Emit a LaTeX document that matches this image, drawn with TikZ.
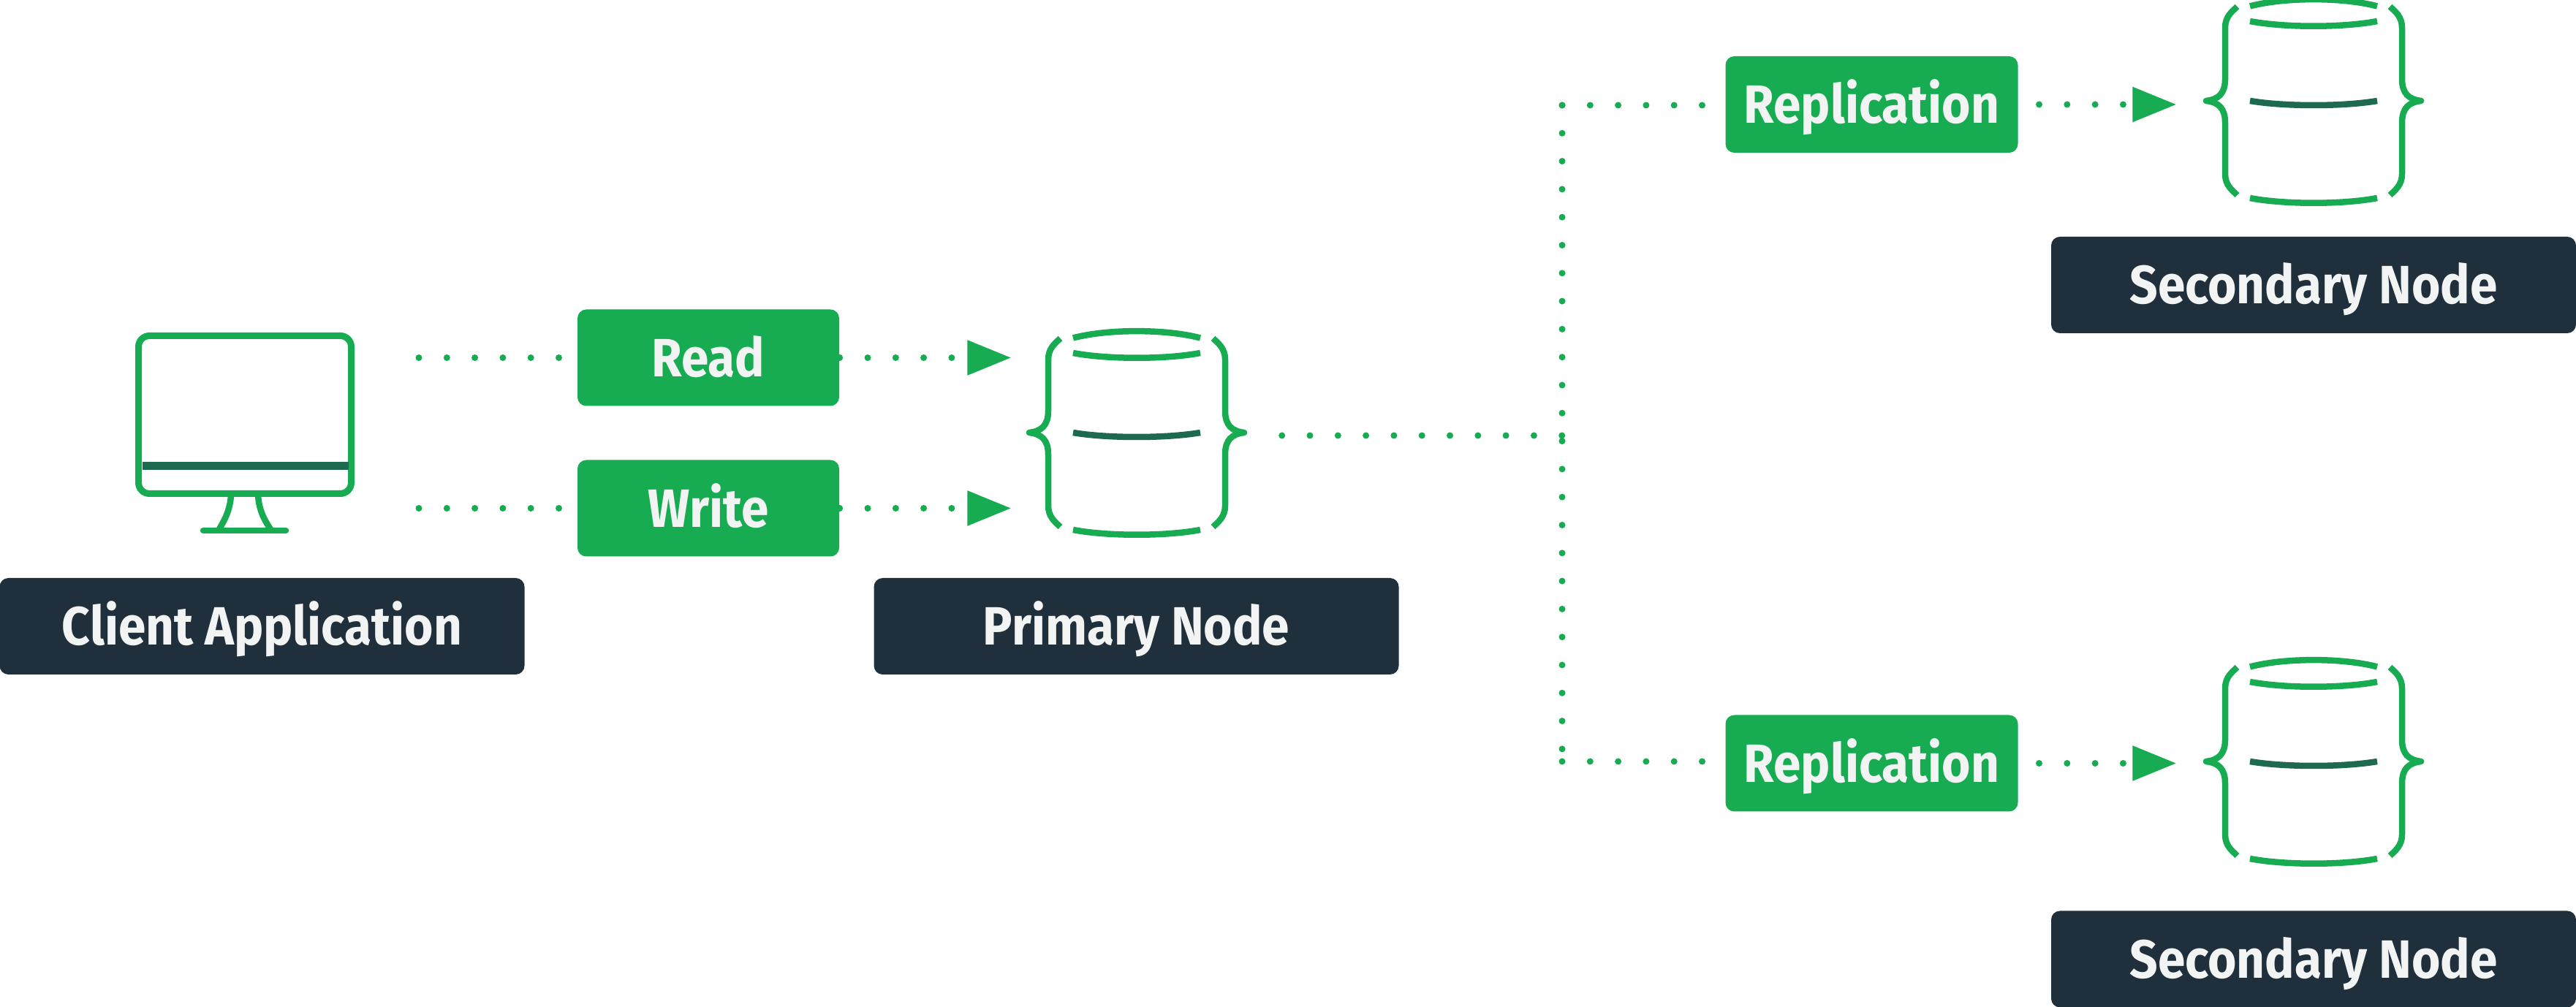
\documentclass[tikz,border=0pt]{standalone}
\usepackage{fontspec}
\setmainfont{Fira Sans}[FakeStretch=0.915]
\usetikzlibrary{arrows.meta,calc}
\definecolor{flowgreen}{HTML}{17AB52}
\definecolor{barteal}{HTML}{1D6A50}
\definecolor{tagslate}{HTML}{1F2F3B}
\definecolor{tagtext}{HTML}{F2F4F4}

\begin{document}
\begin{tikzpicture}[scale=1,
    every node/.style={font=\fontsize{21}{25}\selectfont\bfseries, text=tagtext, inner sep=0pt, text height=0.52cm, text depth=0pt},
    tag/.style={fill=tagslate, rounded corners=0.12cm, minimum width=7.18cm, minimum height=1.32cm},
    op/.style={fill=flowgreen, rounded corners=0.12cm, minimum height=1.32cm},
    stub/.style={minimum width=3.02cm, minimum height=2.7cm},
    flow/.style={draw=flowgreen, line width=0.09cm, line cap=round, dash pattern=on 0pt off 0.383cm},
    flowin/.style={flow, -{Triangle[length=0.6cm,width=0.46cm]}},
    icon/.style={draw=flowgreen, line width=0.085cm, line join=round},
    dbicon/.pic={
      \foreach \s in {-1,1} {
        \draw[icon, xscale=\s] (1.045,1.29) .. controls (1.12,1.22) and (1.21,1.15) .. (1.21,1.0)
          -- (1.21,0.3) .. controls (1.21,0.1) and (1.3,0.02) .. (1.47,0)
          .. controls (1.3,-0.02) and (1.21,-0.1) .. (1.21,-0.3)
          -- (1.21,-1.0) .. controls (1.21,-1.15) and (1.12,-1.22) .. (1.045,-1.29);
      }
      \draw[icon] (-0.87,1.295) .. controls (-0.4,1.42) and (0.4,1.42) .. (0.87,1.295);
      \draw[icon] (-0.87,1.09) .. controls (-0.4,1.0) and (0.4,1.0) .. (0.87,1.09);
      \draw[icon, draw=barteal] (-0.87,0) .. controls (-0.4,-0.08) and (0.4,-0.08) .. (0.87,0);
      \draw[icon] (-0.87,-1.33) .. controls (-0.4,-1.42) and (0.4,-1.42) .. (0.87,-1.33);
    }]

  \useasboundingbox (0,0) rectangle (35.24,-13.78);

  % Client (left)
  \node[draw=flowgreen, line width=0.09cm, rounded corners=0.15cm, minimum width=2.91cm, minimum height=2.16cm] (screen) at (3.35,-5.675) {};
  \draw[line width=0.11cm, draw=barteal] (1.945,-6.375) -- (4.77,-6.375);
  \draw[icon] (3.16,-6.77) .. controls (3.15,-7.0) and (3.05,-7.15) .. (3.0,-7.24);
  \draw[icon] (3.53,-6.77) .. controls (3.54,-7.0) and (3.64,-7.15) .. (3.7,-7.24);
  \draw[icon, line cap=round] (2.78,-7.26) -- (3.91,-7.26);
  \node[tag] (client) at (3.585,-8.57) {Client Application};

  % Operations (middle)
  \node[op, minimum width=3.58cm] (read) at (9.69,-4.895) {Read};
  \node[op, minimum width=3.58cm] (write) at (9.69,-6.955) {Write};

  % Primary (middle)
  \node[stub] (primary) at (15.55,-5.92) {};
  \pic at (primary) {dbicon};
  \node[tag] (primarytag) at (15.545,-8.57) {Primary Node};

  % Secondary (top-right)
  \node[op, minimum width=4.0cm] (repa) at (25.605,-1.43) {Replication};
  \node[stub] (seca) at (31.65,-1.38) {};
  \pic at (seca) {dbicon};
  \node[tag] (secatag) at (31.65,-3.9) {Secondary Node};

  % Secondary (bottom-right)
  \node[op, minimum width=4.0cm] (repb) at (25.605,-10.445) {Replication};
  \node[stub] (secb) at (31.65,-10.42) {};
  \pic at (secb) {dbicon};
  \node[tag] (secbtag) at (31.65,-13.125) {Secondary Node};

  % Trunk
  \coordinate (trunka) at (21.37,-1.44);
  \coordinate (trunkm) at (21.37,-5.96);
  \coordinate (trunkb) at (21.37,-10.42);

  % Client to primary
  \draw[flow] ([xshift=0.88cm]screen.east |- read) -- (read.west);
  \draw[flow] ([xshift=0.88cm]screen.east |- write) -- (write.west);
  \draw[flowin, shorten >=0.2cm] (read.east) -- (read.east -| primary.west);
  \draw[flowin, shorten >=0.2cm] (write.east) -- (write.east -| primary.west);

  % Primary to secondaries
  \draw[flow] ([xshift=0.47cm]primary.east |- trunkm) -- (trunkm);
  \draw[flow] (trunka) -- (trunkb);
  \draw[flow] (trunka) -- (trunka -| repa.west);
  \draw[flow] (trunkb) -- (trunkb -| repb.west);
  \draw[flowin, dash phase=0.1cm, shorten >=0.36cm] (repa.east) -- (repa.east -| seca.west);
  \draw[flowin, dash phase=0.1cm, shorten >=0.36cm] (repb.east) -- (repb.east -| secb.west);

\end{tikzpicture}
\end{document}
